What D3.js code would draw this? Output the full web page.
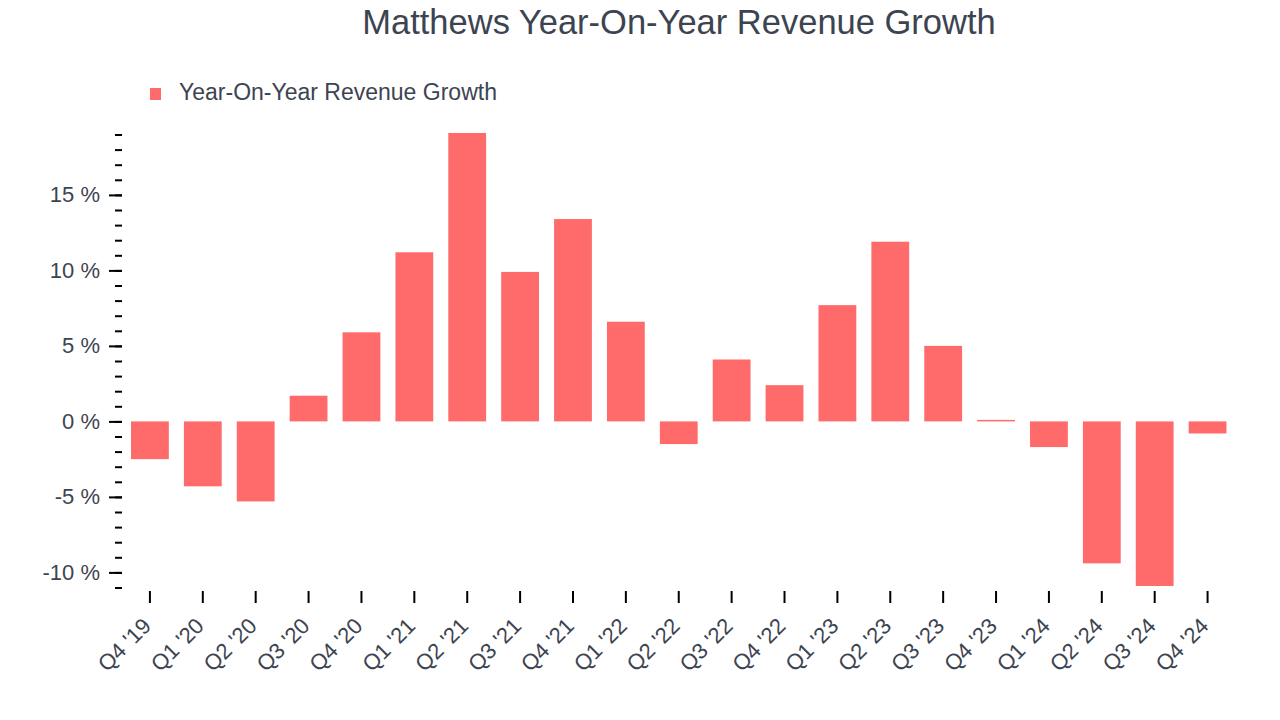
<!DOCTYPE html>
<html>
<head>
<meta charset="utf-8">
<script src="https://cdn.jsdelivr.net/npm/d3@7"></script>
<style>
  body { margin: 0; background: #fff; }
  svg { font-family: "Liberation Sans", Arial, sans-serif; }
</style>
</head>
<body>
<svg width="1280" height="720"></svg>
<script>
var quarters = ["Q4 '19", "Q1 '20", "Q2 '20", "Q3 '20", "Q4 '20", "Q1 '21", "Q2 '21", "Q3 '21", "Q4 '21",
    "Q1 '22", "Q2 '22", "Q3 '22", "Q4 '22", "Q1 '23", "Q2 '23", "Q3 '23", "Q4 '23",
    "Q1 '24", "Q2 '24", "Q3 '24", "Q4 '24"];
var growth = [-2.5, -4.3, -5.3, 1.7, 5.9, 11.2, 19.1, 9.9, 13.4, 6.6, -1.5, 4.1, 2.4, 7.7, 11.9, 5.0, 0.1,
    -1.7, -9.4, -10.9, -0.8];
var yTicks = [-10, -5, 0, 5, 10, 15];

var svg = d3.select('svg');
var textColor = '#3d4451';
var barColor = '#ff6b6b';

var x = d3.scaleBand()
    .domain(quarters)
    .range([121.5, 1236])
    .paddingInner(0.285)
    .paddingOuter(0.18);

var y = d3.scaleLinear()
    .domain([-11, 19])
    .range([587.5, 134.5]);

svg.append('text')
    .attr('x', 679)
    .attr('y', 34)
    .attr('text-anchor', 'middle')
    .style('font-size', '34.5px')
    .style('fill', textColor)
    .text('Matthews Year-On-Year Revenue Growth');

var legend = svg.append('g').attr('transform', 'translate(150,86)');
legend.append('rect')
    .attr('width', 11)
    .attr('height', 12)
    .attr('y', 2)
    .style('fill', barColor);
legend.append('text')
    .attr('x', 29)
    .attr('y', 6)
    .attr('dy', '.35em')
    .style('font-size', '23px')
    .style('fill', textColor)
    .text('Year-On-Year Revenue Growth');

svg.selectAll('.bar')
    .data(growth)
    .enter().append('rect')
    .attr('class', 'bar')
    .attr('x', function (d, i) { return x(quarters[i]); })
    .attr('y', function (d) { return y(Math.max(0, d)); })
    .attr('width', x.bandwidth())
    .attr('height', function (d) { return Math.abs(y(d) - y(0)); })
    .style('fill', barColor);

// minor y ticks every 1 %
var yMinor = svg.append('g')
    .attr('transform', 'translate(122,0)')
    .call(d3.axisLeft(y).tickValues(d3.range(-11, 20)).tickSize(7).tickFormat(''));
yMinor.select('.domain').remove();
yMinor.selectAll('line').attr('stroke', '#000').attr('stroke-width', 2);

var yAxis = svg.append('g')
    .attr('transform', 'translate(122,0)')
    .call(d3.axisLeft(y).tickValues(yTicks).tickSize(13).tickPadding(9)
        .tickFormat(function (d) { return d + ' %'; }));
yAxis.select('.domain').remove();
yAxis.selectAll('line').attr('stroke', '#000').attr('stroke-width', 2);
yAxis.selectAll('text')
    .style('font-size', '22px')
    .style('fill', textColor)
    .style('font-family', '"Liberation Sans", Arial, sans-serif');

var xAxis = svg.append('g')
    .attr('transform', 'translate(0,591)')
    .call(d3.axisBottom(x).tickSize(12).tickPadding(6));
xAxis.select('.domain').remove();
xAxis.selectAll('line').attr('stroke', '#000').attr('stroke-width', 2);
xAxis.selectAll('text')
    .style('font-size', '22px')
    .style('fill', textColor)
    .style('font-family', '"Liberation Sans", Arial, sans-serif')
    .style('text-anchor', 'end')
    .attr('x', -3)
    .attr('y', 31)
    .attr('dy', '0.35em')
    .attr('transform', 'rotate(-45,-3,31)');
</script>
</body>
</html>
